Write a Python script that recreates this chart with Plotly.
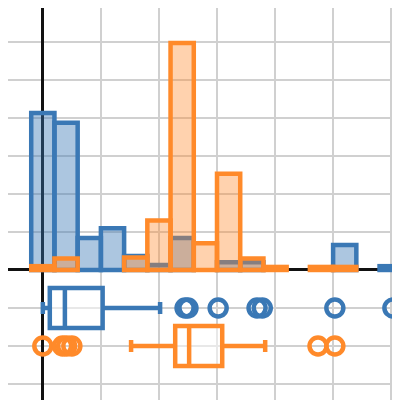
import plotly.graph_objects as go

bin_centers = [0.0, 0.4, 0.8, 1.2, 1.6, 2.0, 2.4, 2.8, 3.2, 3.6, 4.0, 4.4, 4.8, 5.2, 5.6, 6.0]
blue_h = [4.13, 3.87, 0.84, 1.1, 0.37, 0.13, 0.84, 0.0, 0.2, 0.2, 0.0, 0.0, 0.0, 0.66, 0.0, 0.1]
orange_h = [0.1, 0.3, 0.0, 0.0, 0.33, 1.3, 5.97, 0.7, 2.53, 0.3, 0.08, 0.0, 0.08, 0.08, 0.0, 0.0]

blue_box = dict(lo=0.0, q1=0.12, med=0.38, q3=1.03, hi=2.02)
blue_out = [2.45, 2.5, 3.02, 3.69, 3.78, 5.03, 6.03]
orange_box = dict(lo=1.52, q1=2.28, med=2.52, q3=3.09, hi=3.83)
orange_out = [0.0, 0.34, 0.41, 0.5, 4.74, 5.03]

BLUE = "#3a78b5"
ORANGE = "#ff8a2a"

fig = go.Figure()
for h, col, fill in [(blue_h, BLUE, "rgba(58,120,181,0.42)"), (orange_h, ORANGE, "rgba(255,138,42,0.38)")]:
    xs = [c for c, v in zip(bin_centers, h) if v > 0]
    ys = [v for v in h if v > 0]
    fig.add_trace(go.Bar(x=xs, y=ys, width=0.4, marker=dict(color=fill, line=dict(color=col, width=4.5))))

for b, out, yv, col in [(blue_box, blue_out, -1, BLUE), (orange_box, orange_out, -2, ORANGE)]:
    fig.add_trace(go.Box(y=[yv], q1=[b["q1"]], median=[b["med"]], q3=[b["q3"]],
                         lowerfence=[b["lo"]], upperfence=[b["hi"]], orientation="h",
                         width=1.05, whiskerwidth=0.3, fillcolor="rgba(255,255,255,0.5)",
                         line=dict(color=col, width=4.5), boxpoints=False))
    fig.add_trace(go.Scatter(x=out, y=[yv] * len(out), mode="markers",
                             marker=dict(symbol="circle-open", size=17, color=col, line=dict(width=4.5))))

fig.update_layout(width=400, height=400, margin=dict(l=0, r=0, t=0, b=0), showlegend=False,
                  barmode="overlay", plot_bgcolor="white", paper_bgcolor="white")
fig.update_xaxes(range=[-0.60, 6.29], dtick=1, showticklabels=False, gridcolor="#d0d0d0", gridwidth=2,
                 zeroline=True, zerolinecolor="#111", zerolinewidth=3)
fig.update_yaxes(range=[-3.63, 6.89], dtick=1, showticklabels=False, gridcolor="#d0d0d0", gridwidth=2,
                 zeroline=True, zerolinecolor="#111", zerolinewidth=3)
fig.write_html("out.html")
